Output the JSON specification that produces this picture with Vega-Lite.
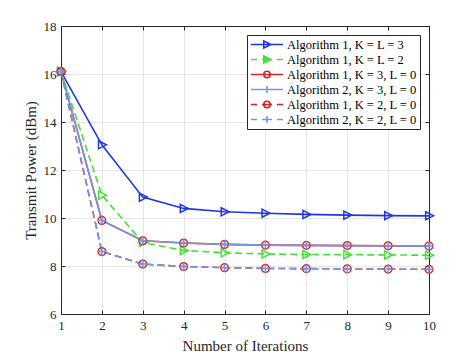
{
  "$schema": "https://vega.github.io/schema/vega-lite/v6.json",
  "width": 368,
  "height": 288,
  "autosize": "none",
  "padding": {"left": 61, "top": 26, "right": 45, "bottom": 41},
  "background": "white",
  "config": {
    "view": {"stroke": "#262626", "strokeWidth": 1},
    "font": "Liberation Serif",
    "axis": {
      "labelFont": "Liberation Serif",
      "labelFontSize": 13,
      "labelColor": "#262626",
      "titleFont": "Liberation Serif",
      "titleFontSize": 15,
      "titleFontWeight": "normal",
      "titleColor": "#262626",
      "domainColor": "#262626",
      "tickColor": "#262626",
      "gridColor": "#e6e6e6",
      "tickSize": -4,
      "labelPadding": 9
    },
    "legend": {
      "labelFont": "Liberation Serif",
      "labelFontSize": 12.5,
      "labelColor": "#000000"
    }
  },
  "data": {
    "values": [
      {"s": "Algorithm 1, K = L = 3", "x": 1, "y": 16.1},
      {"s": "Algorithm 1, K = L = 3", "x": 2, "y": 13.05},
      {"s": "Algorithm 1, K = L = 3", "x": 3, "y": 10.87},
      {"s": "Algorithm 1, K = L = 3", "x": 4, "y": 10.4},
      {"s": "Algorithm 1, K = L = 3", "x": 5, "y": 10.26},
      {"s": "Algorithm 1, K = L = 3", "x": 6, "y": 10.2},
      {"s": "Algorithm 1, K = L = 3", "x": 7, "y": 10.15},
      {"s": "Algorithm 1, K = L = 3", "x": 8, "y": 10.12},
      {"s": "Algorithm 1, K = L = 3", "x": 9, "y": 10.1},
      {"s": "Algorithm 1, K = L = 3", "x": 10, "y": 10.09},
      {"s": "Algorithm 1, K = L = 2", "x": 1, "y": 16.1},
      {"s": "Algorithm 1, K = L = 2", "x": 2, "y": 10.95},
      {"s": "Algorithm 1, K = L = 2", "x": 3, "y": 8.98},
      {"s": "Algorithm 1, K = L = 2", "x": 4, "y": 8.65},
      {"s": "Algorithm 1, K = L = 2", "x": 5, "y": 8.55},
      {"s": "Algorithm 1, K = L = 2", "x": 6, "y": 8.5},
      {"s": "Algorithm 1, K = L = 2", "x": 7, "y": 8.48},
      {"s": "Algorithm 1, K = L = 2", "x": 8, "y": 8.47},
      {"s": "Algorithm 1, K = L = 2", "x": 9, "y": 8.46},
      {"s": "Algorithm 1, K = L = 2", "x": 10, "y": 8.45},
      {"s": "Algorithm 1, K = 3, L = 0", "x": 1, "y": 16.1},
      {"s": "Algorithm 1, K = 3, L = 0", "x": 2, "y": 9.9},
      {"s": "Algorithm 1, K = 3, L = 0", "x": 3, "y": 9.05},
      {"s": "Algorithm 1, K = 3, L = 0", "x": 4, "y": 8.96},
      {"s": "Algorithm 1, K = 3, L = 0", "x": 5, "y": 8.9},
      {"s": "Algorithm 1, K = 3, L = 0", "x": 6, "y": 8.87},
      {"s": "Algorithm 1, K = 3, L = 0", "x": 7, "y": 8.86},
      {"s": "Algorithm 1, K = 3, L = 0", "x": 8, "y": 8.85},
      {"s": "Algorithm 1, K = 3, L = 0", "x": 9, "y": 8.84},
      {"s": "Algorithm 1, K = 3, L = 0", "x": 10, "y": 8.83},
      {"s": "Algorithm 2, K = 3, L = 0", "x": 1, "y": 16.1},
      {"s": "Algorithm 2, K = 3, L = 0", "x": 2, "y": 9.9},
      {"s": "Algorithm 2, K = 3, L = 0", "x": 3, "y": 9.05},
      {"s": "Algorithm 2, K = 3, L = 0", "x": 4, "y": 8.96},
      {"s": "Algorithm 2, K = 3, L = 0", "x": 5, "y": 8.9},
      {"s": "Algorithm 2, K = 3, L = 0", "x": 6, "y": 8.87},
      {"s": "Algorithm 2, K = 3, L = 0", "x": 7, "y": 8.86},
      {"s": "Algorithm 2, K = 3, L = 0", "x": 8, "y": 8.85},
      {"s": "Algorithm 2, K = 3, L = 0", "x": 9, "y": 8.84},
      {"s": "Algorithm 2, K = 3, L = 0", "x": 10, "y": 8.83},
      {"s": "Algorithm 1, K = 2, L = 0", "x": 1, "y": 16.1},
      {"s": "Algorithm 1, K = 2, L = 0", "x": 2, "y": 8.6},
      {"s": "Algorithm 1, K = 2, L = 0", "x": 3, "y": 8.08},
      {"s": "Algorithm 1, K = 2, L = 0", "x": 4, "y": 7.98},
      {"s": "Algorithm 1, K = 2, L = 0", "x": 5, "y": 7.93},
      {"s": "Algorithm 1, K = 2, L = 0", "x": 6, "y": 7.9},
      {"s": "Algorithm 1, K = 2, L = 0", "x": 7, "y": 7.89},
      {"s": "Algorithm 1, K = 2, L = 0", "x": 8, "y": 7.88},
      {"s": "Algorithm 1, K = 2, L = 0", "x": 9, "y": 7.87},
      {"s": "Algorithm 1, K = 2, L = 0", "x": 10, "y": 7.86},
      {"s": "Algorithm 2, K = 2, L = 0", "x": 1, "y": 16.1},
      {"s": "Algorithm 2, K = 2, L = 0", "x": 2, "y": 8.6},
      {"s": "Algorithm 2, K = 2, L = 0", "x": 3, "y": 8.08},
      {"s": "Algorithm 2, K = 2, L = 0", "x": 4, "y": 7.98},
      {"s": "Algorithm 2, K = 2, L = 0", "x": 5, "y": 7.93},
      {"s": "Algorithm 2, K = 2, L = 0", "x": 6, "y": 7.9},
      {"s": "Algorithm 2, K = 2, L = 0", "x": 7, "y": 7.89},
      {"s": "Algorithm 2, K = 2, L = 0", "x": 8, "y": 7.88},
      {"s": "Algorithm 2, K = 2, L = 0", "x": 9, "y": 7.87},
      {"s": "Algorithm 2, K = 2, L = 0", "x": 10, "y": 7.86}
    ]
  },
  "resolve": {"axis": {"x": "independent", "y": "independent"}},
  "layer": [
    {
      "transform": [{"filter": {"field": "s", "oneOf": ["Algorithm 1, K = L = 3", "Algorithm 1, K = 3, L = 0", "Algorithm 2, K = 3, L = 0"]}}],
      "mark": {"type": "line", "strokeWidth": 1.6},
      "encoding": {
        "x": {
          "field": "x", "type": "quantitative",
          "scale": {"domain": [1, 10], "nice": false, "zero": false},
          "axis": {"values": [1,2,3,4,5,6,7,8,9,10], "title": "Number of Iterations", "grid": true, "titlePadding": 6, "labelFlush": false}
        },
        "y": {
          "field": "y", "type": "quantitative",
          "scale": {"domain": [6, 18], "nice": false, "zero": false},
          "axis": {"values": [6,8,10,12,14,16,18], "title": "Transmit Power (dBm)", "grid": true, "titlePadding": 5, "labelFlush": false}
        },
        "color": {
          "field": "s", "type": "nominal",
          "scale": {
            "domain": ["Algorithm 1, K = L = 3", "Algorithm 1, K = L = 2", "Algorithm 1, K = 3, L = 0", "Algorithm 2, K = 3, L = 0", "Algorithm 1, K = 2, L = 0", "Algorithm 2, K = 2, L = 0"],
            "range": ["#1f36e0", "#44e03a", "#d62424", "#7396e6", "#d62424", "#7396e6"]
          },
          "legend": {
            "title": null,
            "orient": "top-right",
            "offset": 9,
            "padding": 3,
            "strokeColor": "#262626",
            "fillColor": "white",
            "symbolSize": 1024,
            "clipHeight": 13,
            "rowPadding": 2,
            "labelOffset": 3,
            "encode": {
              "symbols": {
                "update": {
                  "shape": {"signal": "datum.value === 'Algorithm 1, K = L = 3' ? 'M-1,0H1M-0.2,-0.22L0.25,0L-0.2,0.22Z' : datum.value === 'Algorithm 1, K = L = 2' ? 'M-1,0H-0.62M-0.32,0H0.32M0.62,0H1M-0.2,-0.22L0.25,0L-0.2,0.22Z' : datum.value === 'Algorithm 1, K = 3, L = 0' ? 'M-1,0H1M0.2,0A0.2,0.2 0 1,1 -0.2,0A0.2,0.2 0 1,1 0.2,0Z' : datum.value === 'Algorithm 2, K = 3, L = 0' ? 'M-1,0H1M0,-0.22V0.22' : datum.value === 'Algorithm 1, K = 2, L = 0' ? 'M-1,0H-0.62M-0.32,0H0.32M0.62,0H1M0.2,0A0.2,0.2 0 1,1 -0.2,0A0.2,0.2 0 1,1 0.2,0Z' : 'M-1,0H-0.62M-0.32,0H0.32M0.62,0H1M0,-0.22V0.22'"},
                  "fill": {"signal": "datum.value === 'Algorithm 1, K = L = 2' ? '#44e03a' : 'transparent'"},
                  "strokeWidth": {"value": 1.6},
                  "opacity": {"value": 1}
                }
              }
            }
          }
        },
        "order": {"field": "x", "type": "quantitative"}
      }
    },
    {
      "transform": [{"filter": {"field": "s", "oneOf": ["Algorithm 1, K = L = 2", "Algorithm 1, K = 2, L = 0", "Algorithm 2, K = 2, L = 0"]}}],
      "mark": {"type": "line", "strokeWidth": 1.6, "strokeDash": [7, 4]},
      "encoding": {
        "x": {"field": "x", "type": "quantitative", "axis": null},
        "y": {"field": "y", "type": "quantitative", "axis": null},
        "color": {"field": "s", "type": "nominal", "legend": null},
        "order": {"field": "x", "type": "quantitative"}
      }
    },
    {
      "transform": [{"filter": {"field": "s", "oneOf": ["Algorithm 1, K = L = 3", "Algorithm 1, K = L = 2"]}}],
      "mark": {"type": "point", "filled": false, "strokeWidth": 1.5, "size": 81, "opacity": 1, "shape": "M-0.75,-0.9L1,0L-0.75,0.9Z"},
      "encoding": {
        "x": {"field": "x", "type": "quantitative", "axis": null},
        "y": {"field": "y", "type": "quantitative", "axis": null},
        "color": {"field": "s", "type": "nominal", "legend": null}
      }
    },
    {
      "transform": [{"filter": {"field": "s", "oneOf": ["Algorithm 1, K = 3, L = 0", "Algorithm 1, K = 2, L = 0"]}}],
      "mark": {"type": "point", "filled": false, "strokeWidth": 1.5, "size": 81, "opacity": 1, "shape": "M0.85,0A0.85,0.85 0 1,1 -0.85,0A0.85,0.85 0 1,1 0.85,0Z"},
      "encoding": {
        "x": {"field": "x", "type": "quantitative", "axis": null},
        "y": {"field": "y", "type": "quantitative", "axis": null},
        "color": {"field": "s", "type": "nominal", "legend": null}
      }
    },
    {
      "transform": [{"filter": {"field": "s", "oneOf": ["Algorithm 2, K = 3, L = 0", "Algorithm 2, K = 2, L = 0"]}}],
      "mark": {"type": "point", "filled": false, "strokeWidth": 1.5, "size": 81, "opacity": 1, "shape": "M-0.9,0H0.9M0,-0.9V0.9"},
      "encoding": {
        "x": {
          "field": "x", "type": "quantitative",
          "axis": {"orient": "top", "values": [1,2,3,4,5,6,7,8,9,10], "labels": false, "title": null, "grid": false}
        },
        "y": {
          "field": "y", "type": "quantitative",
          "axis": {"orient": "right", "values": [6,8,10,12,14,16,18], "labels": false, "title": null, "grid": false}
        },
        "color": {"field": "s", "type": "nominal", "legend": null}
      }
    }
  ]
}
